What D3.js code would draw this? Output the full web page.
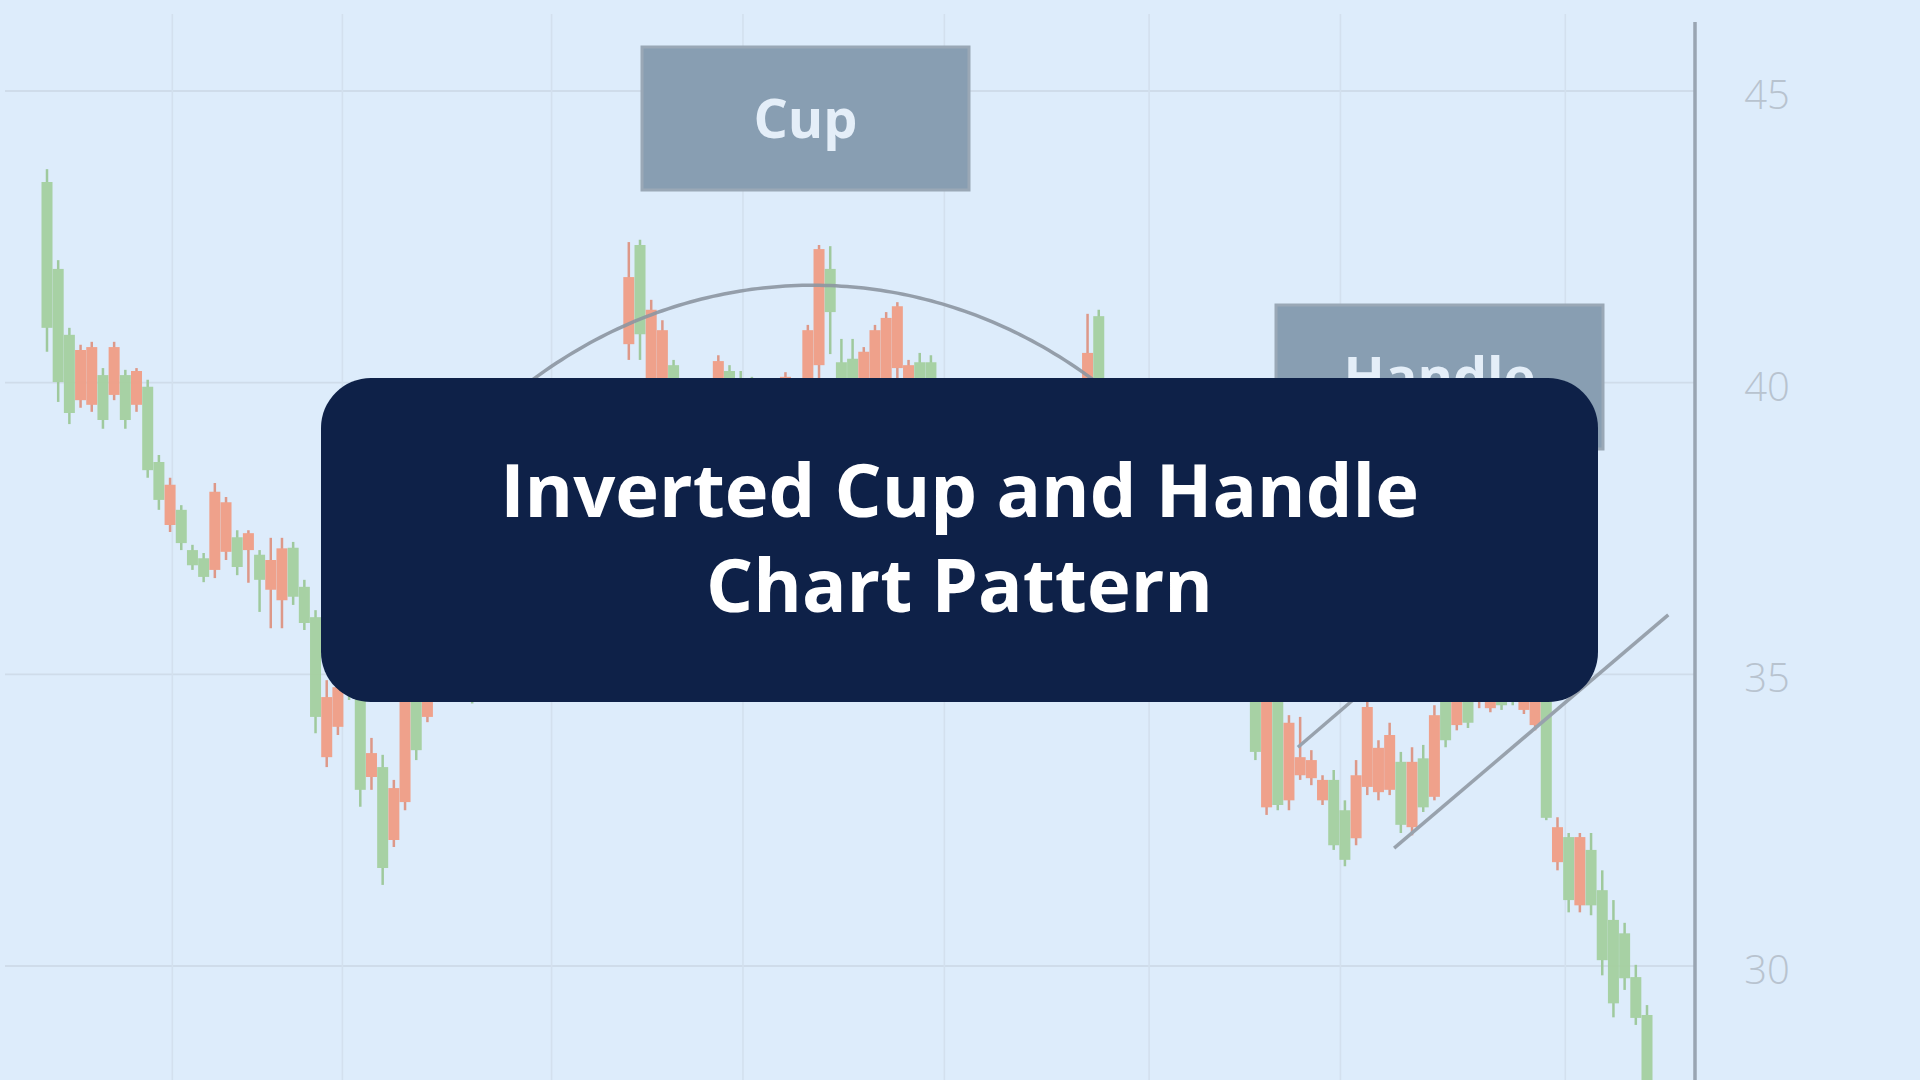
<!DOCTYPE html>
<html><head><meta charset="utf-8">
<script src="https://cdn.jsdelivr.net/npm/d3@7"></script>
<style>html,body{margin:0;padding:0;background:#ddecfb;overflow:hidden}</style>
</head><body><svg id="c" width="1920" height="1080"></svg>
<script>
// ---- data (prices) ----
const opens = [43.44,41.95,40.82,39.70,39.62,40.13,39.79,40.13,39.62,39.93,38.64,37.56,37.82,37.13,36.99,36.79,37.10,37.35,37.13,37.05,36.45,36.27,37.17,36.50,35.98,33.58,34.10,35.59,34.73,33.24,33.41,32.16,32.81,34.90,34.27,34.8,35.3,35.0,35.1,34.7,35.5,36.2,35.9,36.6,37.2,36.9,37.5,38.1,37.8,38.4,38.9,38.5,40.66,42.36,39.36,39.70,40.30,39.87,39.02,38.67,39.36,40.20,40.05,39.96,38.85,39.84,39.36,39.96,39.36,40.30,41.95,40.35,40.41,39.36,39.70,39.87,40.25,39.36,40.35,40.35,39.8,39.3,39.6,39.0,38.6,39.1,38.5,38.9,39.4,38.9,39.3,39.7,39.2,39.36,41.14,39.19,39.9,39.2,38.6,39.0,38.2,37.6,38.0,37.2,36.6,37.0,36.3,35.8,34.90,32.72,34.56,32.84,33.27,33.22,32.84,33.19,32.67,32.19,33.07,32.98,33.02,33.50,32.38,33.56,32.90,34.73,34.13,34.73,34.56,34.42,34.90,34.90,34.39,34.13,34.73,31.78,32.21,31.04,31.99,31.30,30.79,30.56,29.81,29.16];
const highs = [43.66,42.10,40.94,40.65,40.70,40.25,40.70,40.22,40.25,40.05,38.76,38.37,37.90,37.22,37.08,38.28,38.04,37.47,37.47,37.13,37.34,37.34,37.27,36.62,36.10,34.90,34.99,35.76,34.90,33.91,33.62,33.19,34.90,35.07,34.90,35.5,35.6,35.8,35.3,35.8,36.4,36.4,36.9,37.4,37.3,37.8,38.3,38.2,38.7,39.1,39.0,39.5,42.41,42.45,41.42,41.07,40.39,39.96,39.91,39.91,40.47,40.30,40.20,40.10,39.99,39.96,40.18,40.05,40.99,42.36,42.34,40.75,40.75,40.61,40.99,41.21,41.38,40.39,40.51,40.47,39.9,39.8,39.7,39.1,39.3,39.2,39.0,39.6,39.5,39.5,39.8,39.8,39.9,41.18,41.25,40.05,40.0,39.3,39.2,39.1,38.3,38.2,38.1,37.3,37.1,37.1,36.4,36.3,35.07,34.90,34.73,34.30,34.27,33.70,33.27,33.36,32.84,33.53,34.56,33.87,34.17,33.67,33.75,33.79,34.47,34.90,34.90,34.90,35.07,34.87,34.99,35.04,34.83,34.94,34.90,32.55,32.28,32.28,32.28,31.64,31.13,30.74,30.02,29.33];
const lows = [40.53,39.67,39.29,39.57,39.50,39.21,39.70,39.21,39.50,38.37,37.82,37.44,37.13,36.79,36.58,36.65,36.96,36.70,36.57,36.07,35.79,35.79,36.19,35.76,33.99,33.41,33.96,34.56,32.73,33.02,31.39,32.04,32.67,33.53,34.18,34.6,34.8,34.9,34.5,34.6,35.4,35.6,35.8,36.5,36.6,36.8,37.4,37.5,37.7,38.3,38.2,38.4,40.39,40.39,39.02,39.36,39.19,39.02,38.85,38.50,39.19,39.36,39.19,39.02,38.67,38.85,39.19,39.02,39.19,39.70,40.49,39.10,39.45,39.02,39.36,39.53,39.70,39.02,39.36,39.36,39.1,39.1,38.9,38.4,38.5,38.3,38.3,38.8,38.7,38.8,39.1,39.0,39.1,39.02,39.36,39.02,39.0,38.4,38.5,38.0,37.4,37.5,37.0,36.4,36.5,36.1,35.6,35.7,33.53,32.59,32.67,32.67,33.19,33.10,32.76,31.99,31.71,32.07,32.93,32.84,32.93,32.28,32.24,32.64,32.84,33.75,34.04,34.08,34.42,34.35,34.39,34.47,34.32,34.04,32.50,31.64,30.92,30.92,30.87,29.84,29.12,29.59,28.99,27.70];
const closes = [40.94,40.01,39.48,40.56,40.61,39.36,40.61,39.36,40.20,38.50,37.99,38.25,37.25,36.87,36.67,38.13,37.95,36.84,37.42,36.62,36.96,37.16,36.33,35.88,34.27,34.61,34.78,34.73,33.02,33.65,31.68,33.05,34.73,33.70,34.73,35.3,35.0,35.6,34.6,35.6,36.2,35.8,36.7,37.2,36.8,37.6,38.1,37.7,38.5,38.9,38.4,39.3,41.81,40.83,41.25,40.90,39.53,39.36,39.79,39.79,40.37,39.70,39.36,39.19,39.87,39.02,40.10,39.19,40.90,42.29,41.21,39.36,39.70,40.53,40.90,41.11,41.31,40.30,39.70,39.53,39.3,39.7,39.0,38.6,39.1,38.5,38.9,39.4,38.9,39.3,39.7,39.2,39.8,40.51,39.70,39.96,39.2,38.6,39.0,38.2,37.6,38.0,37.2,36.6,37.0,36.3,35.8,36.2,33.67,34.73,32.76,34.17,33.58,33.53,33.19,32.07,31.82,33.27,34.44,33.74,33.96,32.42,33.50,32.72,34.30,33.87,34.73,34.17,34.90,34.73,34.47,34.56,34.73,34.82,32.54,32.38,31.13,32.21,31.04,30.10,29.36,29.79,29.11,27.87];
const yTicks = [45, 40, 35, 30];
const xGridAt = [11.2, 26.4, 45.1, 62.2, 80.2, 98.5, 115.6, 135.7]; // candle index of date grid lines
// annotations (index, price)
const cupArc = {center: 68.45, halfWidth: 44.7, top: 41.67, depth: 9.43, from: 39.5, to: 98};
const channelLower = [[120.4, 32.02], [144.9, 36.02]];
const channelUpper = [[111.8, 33.75], [120.0, 35.1]];
const titleLines = ["Inverted Cup and Handle", "Chart Pattern"];
const cupLabel = "Cup", handleLabel = "Handle";

const N = opens.length;
const svg = d3.select("#c");
const x = d3.scaleLinear().domain([0, N - 1]).range([47, 1647]);
const y = d3.scaleLinear().domain([30, 45]).range([966, 91]);
const axisX = 1695;

svg.append("rect").attr("width", 1920).attr("height", 1080).attr("fill", "#ddecfb");

// grid
const grid = svg.append("g");
grid.selectAll("line.h").data(yTicks).enter().append("line")
  .attr("x1", 5).attr("x2", axisX).attr("y1", d => y(d)).attr("y2", d => y(d))
  .attr("stroke", "#cfdcea").attr("stroke-width", 1.8);
grid.selectAll("line.v").data(xGridAt).enter().append("line")
  .attr("x1", d => x(d)).attr("x2", d => x(d)).attr("y1", 14).attr("y2", 1080)
  .attr("stroke", "#d3e0ee").attr("stroke-width", 1.6);

// candles
const data = d3.range(N).map(i => ({i, o: opens[i], h: highs[i], l: lows[i], c: closes[i]}));
const isDown = d => d.c < d.o;
const bw = 11;
const cg = svg.append("g").attr("opacity", 0.95);
cg.selectAll("line.w").data(data).enter().append("line")
  .attr("x1", d => x(d.i)).attr("x2", d => x(d.i))
  .attr("y1", d => y(d.h)).attr("y2", d => y(d.l))
  .attr("stroke", d => isDown(d) ? "#9cc898" : "#dd9482").attr("stroke-width", 2.5);
cg.selectAll("rect.b").data(data).enter().append("rect")
  .attr("x", d => x(d.i) - bw / 2).attr("width", bw)
  .attr("y", d => y(Math.max(d.o, d.c)))
  .attr("height", d => Math.max(2, Math.abs(y(d.o) - y(d.c))))
  .attr("fill", d => isDown(d) ? "#a5d0a0" : "#f09e86");

// cup arc
const arcPts = d3.range(cupArc.from, cupArc.to + 0.01, 0.5).map(t => {
  const u = (t - cupArc.center) / cupArc.halfWidth;
  const drop = cupArc.depth * (1 - Math.sqrt(Math.max(0, 1 - u * u)));
  return [x(t), y(cupArc.top - drop)];
});
svg.append("path").attr("d", d3.line()(arcPts)).attr("fill", "none")
  .attr("stroke", "#8c96a1").attr("stroke-width", 3.5).attr("opacity", 0.9);
[channelLower, channelUpper].forEach(seg => {
  svg.append("line").attr("x1", x(seg[0][0])).attr("y1", y(seg[0][1]))
    .attr("x2", x(seg[1][0])).attr("y2", y(seg[1][1]))
    .attr("stroke", "#98a2ad").attr("stroke-width", 3.5);
});

// annotation boxes
function labelBox(x0, y0, w, h, txt) {
  svg.append("rect").attr("x", x0).attr("y", y0).attr("width", w).attr("height", h)
    .attr("fill", "#889eb2").attr("stroke", "#9aa8b6").attr("stroke-width", 3);
  svg.append("text").attr("x", x0 + w / 2).attr("y", y0 + h / 2 + 19)
    .attr("text-anchor", "middle").attr("font-family", "'Open Sans', sans-serif")
    .attr("font-weight", 700).attr("font-size", 54).attr("fill", "#e4eef8").text(txt);
}
labelBox(642, 47, 327, 143, cupLabel);
labelBox(1276, 305, 327, 144, handleLabel);

// title panel
svg.append("rect").attr("x", 321).attr("y", 378).attr("width", 1277).attr("height", 324)
  .attr("rx", 50).attr("fill", "#0e2148");
svg.selectAll("text.t").data(titleLines).enter().append("text")
  .attr("x", 959.5).attr("y", (d, k) => 517 + k * 95)
  .attr("text-anchor", "middle").attr("font-family", "'Open Sans', sans-serif")
  .attr("font-weight", 700).attr("font-size", 74).attr("fill", "#ffffff").text(d => d);

// right axis
svg.append("line").attr("x1", axisX).attr("x2", axisX).attr("y1", 22).attr("y2", 1080)
  .attr("stroke", "#99a5b2").attr("stroke-width", 3.5);
svg.selectAll("text.y").data(yTicks).enter().append("text")
  .attr("x", 1767).attr("y", d => y(d) + 18)
  .attr("text-anchor", "middle").attr("font-family", "'Open Sans', sans-serif")
  .attr("font-weight", 300).attr("font-size", 40).attr("fill", "#b8c3cf").text(d => d);
</script></body></html>
